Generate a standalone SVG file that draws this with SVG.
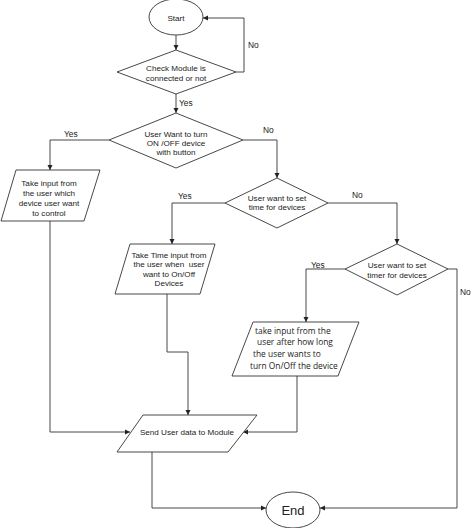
<svg xmlns="http://www.w3.org/2000/svg" width="474" height="528" viewBox="0 0 474 528">
<defs>
<marker id="ah" markerWidth="6" markerHeight="6" refX="5" refY="3" orient="auto" markerUnits="userSpaceOnUse">
<path d="M0,0.5 L5,3 L0,5.5 Z" fill="#222"/>
</marker>
<style>
.s{fill:#fff;stroke:#333;stroke-width:0.9}
.c{fill:none;stroke:#333;stroke-width:0.9;marker-end:url(#ah)}
.t{font-family:"Liberation Sans",Arial,sans-serif;font-size:8.1px;fill:#222;text-anchor:middle}
.l{font-family:"Liberation Sans",Arial,sans-serif;font-size:8.4px;fill:#222}
.k{font-family:"Open Sans","Noto Sans",sans-serif;font-size:8.4px;fill:#222}
</style>
</defs>
<rect width="474" height="528" fill="#fff"/>
<g id="connectors">
<path class="c" d="M176,35 L176,50"/>
<path class="c" d="M176,94 L176,113"/>
<path class="c" d="M236,72 L244,72 L244,18 L203,18"/>
<path class="c" d="M109,140 L50,140 L50,170"/>
<path class="c" d="M243,140 L277,140 L277,178"/>
<path class="c" d="M50,221 L50,432 L130,432"/>
<path class="c" d="M225,203 L172,203 L172,244"/>
<path class="c" d="M328,203 L397,203 L397,244"/>
<path class="c" d="M167,294 L167,352 L188,352 L188,415"/>
<path class="c" d="M345,269 L306,269 L306,322"/>
<path class="c" d="M448,269 L457,269 L457,508 L320,508"/>
<path class="c" d="M297,376 L297,432 L243,432"/>
<path class="c" d="M152,452 L152,508 L266,508"/>
<text class="l" x="179" y="106">Yes</text>
<text class="l" x="248" y="48">No</text>
<text class="l" x="64" y="137">Yes</text>
<text class="l" x="263" y="133">No</text>
<text class="l" x="178" y="199">Yes</text>
<text class="l" x="352" y="198">No</text>
<text class="l" x="311" y="268">Yes</text>
<text class="l" x="460" y="295">No</text>
</g>
<g id="start">
<ellipse class="s" cx="176" cy="17" rx="27" ry="18"/>
<text class="t" x="176" y="21">Start</text>
</g>
<g id="check-module">
<polygon class="s" points="176,50 236,72 176,94 117,72"/>
<text class="t" x="176" y="71">Check Module is</text>
<text class="t" x="176" y="81">connected or not</text>
</g>
<g id="want-turn">
<polygon class="s" points="176,113 243,140 176,168 109,140"/>
<text class="t" x="176" y="137">User Want to turn</text>
<text class="t" x="176" y="146">ON /OFF device</text>
<text class="t" x="176" y="155">with button</text>
</g>
<g id="input-device">
<polygon class="s" points="16,170 100,170 84,221 1,221"/>
<text class="t" x="49" y="186">Take input from</text>
<text class="t" x="49" y="196">the user which</text>
<text class="t" x="49" y="206">device user want</text>
<text class="t" x="49" y="216">to control</text>
</g>
<g id="want-time">
<polygon class="s" points="277,178 328,203 277,228 225,203"/>
<text class="t" x="277" y="201">User want to set</text>
<text class="t" x="277" y="210">time for devices</text>
</g>
<g id="input-time">
<polygon class="s" points="130,244 215,244 200,294 115,294"/>
<text class="t" x="169" y="258" xml:space="preserve">Take Time input from</text>
<text class="t" x="169" y="267" xml:space="preserve">the user when  user</text>
<text class="t" x="169" y="277">want to On/Off</text>
<text class="t" x="169" y="286">Devices</text>
</g>
<g id="want-timer">
<polygon class="s" points="397,244 448,269 397,295 345,269"/>
<text class="t" x="397" y="268">User want to set</text>
<text class="t" x="397" y="278">timer for devices</text>
</g>
<g id="input-timer">
<polygon class="s" points="253,322 359,322 338,376 232,376"/>
<text class="k" x="255" y="334">take input from the</text>
<text class="k" x="257" y="345">user after how long</text>
<text class="k" x="253" y="357">the user wants to</text>
<text class="k" x="250" y="369">turn On/Off the device</text>
</g>
<g id="send">
<polygon class="s" points="143,415 257,415 228,452 117,452"/>
<text class="t" x="187" y="435">Send User data to Module</text>
</g>
<g id="end">
<ellipse class="s" cx="293" cy="510" rx="27" ry="18"/>
<text class="t" x="293" y="515" style="font-size:13px">End</text>
</g>
</svg>
